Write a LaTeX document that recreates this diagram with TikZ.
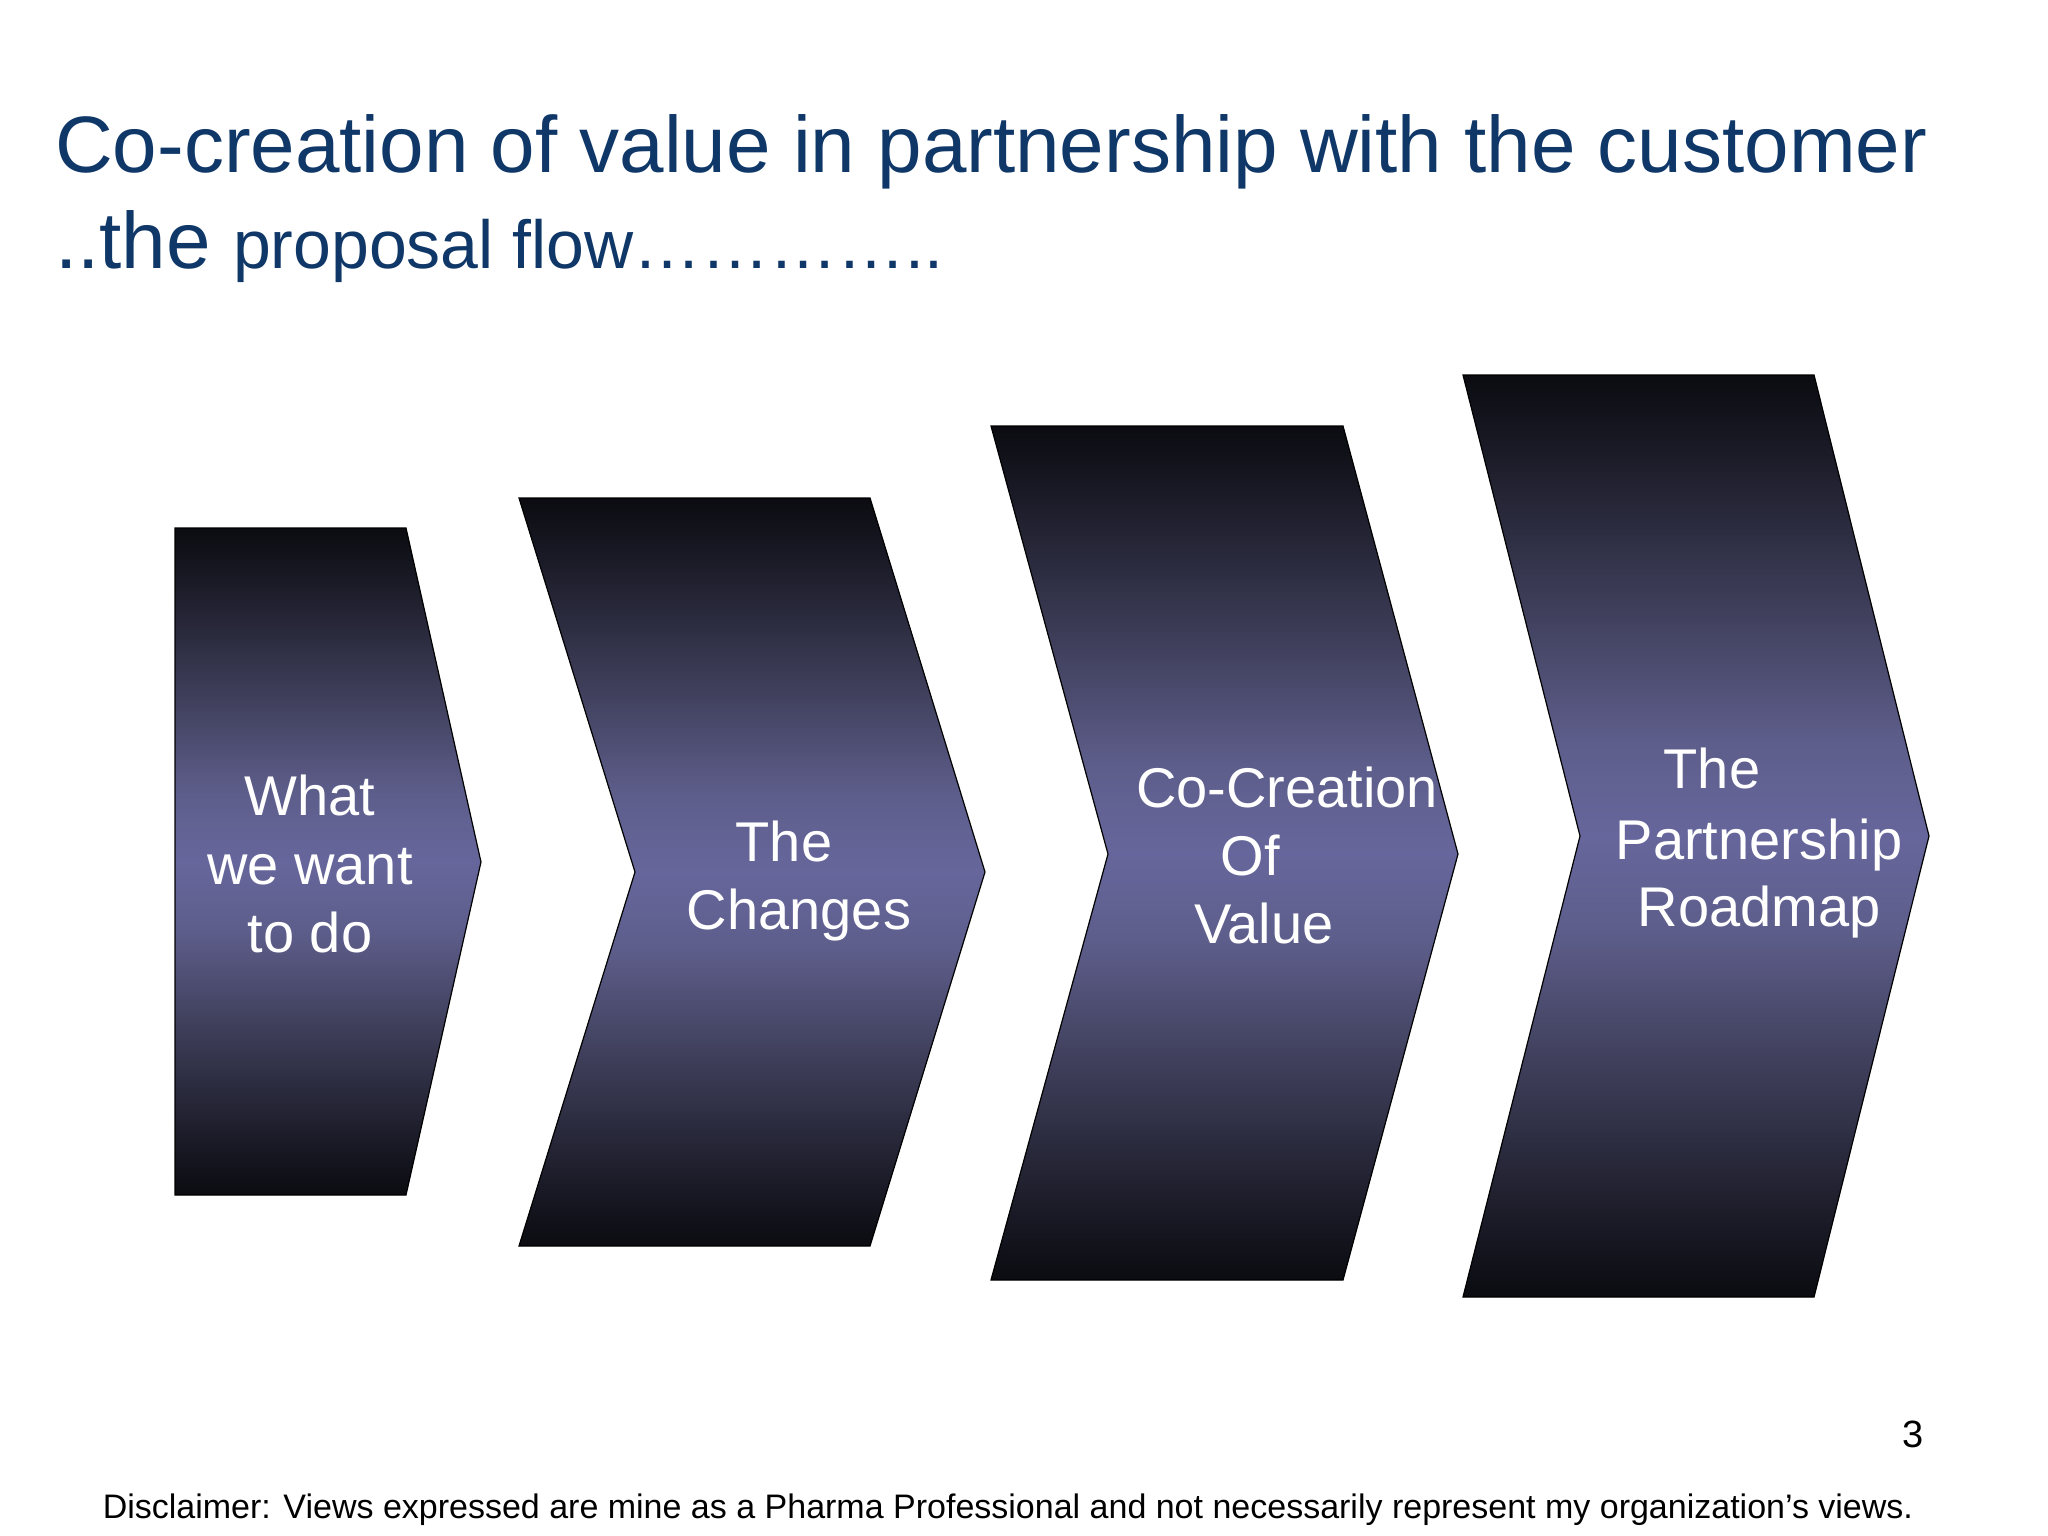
\documentclass[tikz,border=0pt]{standalone}
\usepackage{fontspec}
\setmainfont{Liberation Sans}
\definecolor{titleblue}{HTML}{0F3768}
\definecolor{cA}{HTML}{0B0B11}
\definecolor{cB}{HTML}{1E1E2C}
\definecolor{cC}{HTML}{3E3E5A}
\definecolor{cD}{HTML}{5E5E8C}
\definecolor{cE}{HTML}{66669C}
\pgfdeclareverticalshading{chevshade}{100bp}{color(0bp)=(cA); color(25bp)=(cA); color(30bp)=(cB); color(37.5bp)=(cC); color(45bp)=(cD); color(50bp)=(cE); color(55bp)=(cD); color(62.5bp)=(cC); color(70bp)=(cB); color(75bp)=(cA); color(100bp)=(cA)}
\tikzset{
  chev/.style={draw=black, line width=1.2pt, shading=chevshade},
  boxtext/.style={text=white, anchor=base, inner sep=0pt, font=\fontsize{56}{68}\selectfont},
}
\begin{document}
\begin{tikzpicture}[x=1pt,y=-1pt]
\useasboundingbox[fill=white] (0,0) rectangle (2048,1536);
% title
\node[anchor=base west, inner sep=0pt, text=titleblue, font=\fontsize{80}{96}\selectfont] (title) at (55,172) {Co-creation of value in partnership with the customer};
\node[anchor=base west, inner sep=0pt, text=titleblue] (subtitle) at (55,268) {\fontsize{80}{96}\selectfont ..the \fontsize{68}{80}\selectfont proposal flow…………..};
% chevrons
\shade[chev] (175,528) -- (406,528) -- (481,862) -- (406,1195) -- (175,1195) -- cycle;
\shade[chev] (519,498) -- (870,498) -- (985,872) -- (870,1246) -- (519,1246) -- (635,872) -- cycle;
\shade[chev] (991,426) -- (1343,426) -- (1458,854) -- (1343,1280) -- (991,1280) -- (1108,854) -- cycle;
\shade[chev] (1463,375) -- (1814,375) -- (1929,836) -- (1814,1297) -- (1463,1297) -- (1580,836) -- cycle;
% texts
\node[boxtext] (t1a) at (310,815) {What};
\node[boxtext] (t1b) at (310,884) {we want};
\node[boxtext] (t1c) at (310,952) {to do};
\node[boxtext] (t2a) at (784,861) {The};
\node[boxtext] (t2b) at (799,929) {Changes};
\node[boxtext] (t3a) at (1287,807) {Co-Creation};
\node[boxtext] (t3b) at (1250,875) {Of};
\node[boxtext] (t3c) at (1264,943) {Value};
\node[boxtext] (t4a) at (1712,788) {The};
\node[boxtext] (t4b) at (1759,859) {Partnership};
\node[boxtext] (t4c) at (1759,926) {Roadmap};
% footer
\node[anchor=base, inner sep=0pt, font=\fontsize{38}{44}\selectfont] (pnum) at (1913,1447) {3};
\node[anchor=base, inner sep=0pt, font=\fontsize{34}{40}\selectfont] (disc) at (1008,1518) {Disclaimer: Views expressed are mine as a Pharma Professional and not necessarily represent my organization’s views.};
\end{tikzpicture}
\end{document}
